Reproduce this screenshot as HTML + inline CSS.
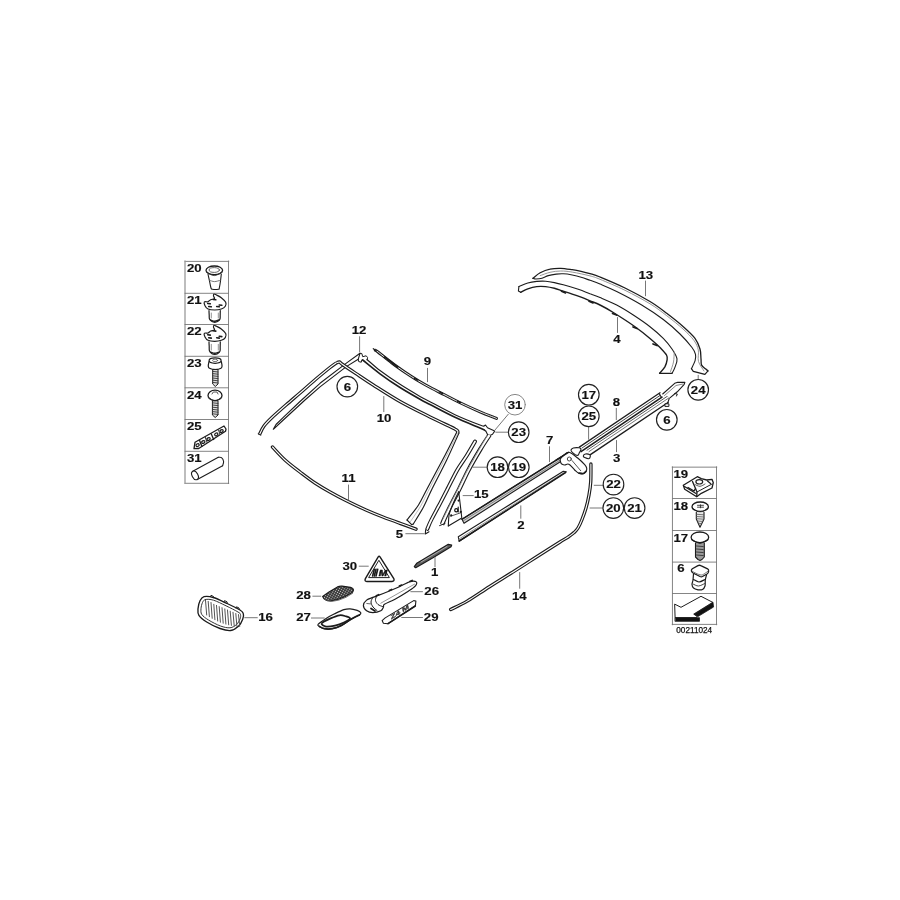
<!DOCTYPE html>
<html><head><meta charset="utf-8"><title>Diagram 00211024</title>
<style>
html,body{margin:0;padding:0;background:#fff;}
body{width:900px;height:900px;overflow:hidden;}
svg{display:block;will-change:transform;}
svg text{font-family:"Liberation Sans",sans-serif;font-weight:bold;}
svg text.n{font-weight:normal;}
</style></head><body>
<svg width="900" height="900" viewBox="0 0 900 900" stroke-linecap="round" stroke-linejoin="round">
<rect width="900" height="900" fill="#fff"/>
<g id="drawing">
<path d="M272.5 447 C274.6 449.2 280.4 455.8 285 460 C289.6 464.2 295 468.2 300 472 C305 475.8 310 479.7 315 483 C320 486.3 325 489.2 330 492 C335 494.8 339 497 345 500 C351 503 359.7 507.2 366 510 C372.3 512.8 377.3 514.8 383 517 C388.7 519.2 394.5 521.3 400 523.3 C405.5 525.3 413.3 528.2 416 529.2" fill="none" stroke="#1c1c1c" stroke-width="3.4" stroke-linecap="round"/>
<path d="M272.5 447 C274.6 449.2 280.4 455.8 285 460 C289.6 464.2 295 468.2 300 472 C305 475.8 310 479.7 315 483 C320 486.3 325 489.2 330 492 C335 494.8 339 497 345 500 C351 503 359.7 507.2 366 510 C372.3 512.8 377.3 514.8 383 517 C388.7 519.2 394.5 521.3 400 523.3 C405.5 525.3 413.3 528.2 416 529.2" fill="none" stroke="#fff" stroke-width="1.1" stroke-linecap="round"/>
<path d="M273.3 429.3 L283.3 420 L305 400 L320 386.9 L346.7 366.4 L358.2 359.3 L360 353.3 L346.7 362.9 L320 383.3 L300 401.5 L283.3 417.3 L276 424.5 Z" fill="#fff" stroke="#1c1c1c" stroke-width="1.1" />
<path d="M259.5 434.5 C260.2 433.1 261.9 428.8 264 426 C266.1 423.2 268.3 421 272 417.5 C275.7 414 281.3 409.1 286 405 C290.7 400.9 295 397.3 300 393 C305 388.7 311 383.2 316 379 C321 374.8 326.6 370.2 330 367.5 C333.4 364.8 335.4 363.6 336.5 362.8" fill="none" stroke="#1c1c1c" stroke-width="3.4" stroke-linecap="butt"/>
<path d="M259.5 434.5 C260.2 433.1 261.9 428.8 264 426 C266.1 423.2 268.3 421 272 417.5 C275.7 414 281.3 409.1 286 405 C290.7 400.9 295 397.3 300 393 C305 388.7 311 383.2 316 379 C321 374.8 326.6 370.2 330 367.5 C333.4 364.8 335.4 363.6 336.5 362.8" fill="none" stroke="#fff" stroke-width="1.1" stroke-linecap="butt"/>
<path d="M258.2 434 L260.8 435.2" fill="none" stroke="#1c1c1c" stroke-width="1" />
<path d="M456.3 433 C454 437.5 447.4 450.7 442.5 460 C437.6 469.3 431 481.5 427 489 C423 496.5 421.8 499.8 418.5 505 C415.2 510.2 408.9 517.5 407 520 L411.7 524.7 L413.3 524 C415 521.2 420.4 512.8 423.5 507 C426.6 501.2 428.1 496.8 432 489 C435.9 481.2 442.2 469.3 446.7 460 C451.2 450.7 456.9 437.5 459 433 Z" fill="#fff" stroke="none" stroke-width="1" />
<path d="M456.3 433 C454 437.5 447.4 450.7 442.5 460 C437.6 469.3 431 481.5 427 489 C423 496.5 421.8 499.8 418.5 505 C415.2 510.2 408.9 517.5 407 520" fill="none" stroke="#1c1c1c" stroke-width="1.15" />
<path d="M459 433 C456.9 437.5 451.2 450.7 446.7 460 C442.2 469.3 435.9 481.2 432 489 C428.1 496.8 426.6 501.2 423.5 507 C420.4 512.8 415 521.2 413.3 524" fill="none" stroke="#1c1c1c" stroke-width="1.15" />
<path d="M407 520 L411.7 524.7 L413.3 524" fill="none" stroke="#1c1c1c" stroke-width="1.1" />
<path d="M457.5 434 C455.3 438.3 449 450.8 444.3 460 C439.6 469.2 433.1 481.3 429.2 489 C425.3 496.7 423.8 500.6 420.7 506 C417.6 511.4 412.2 518.9 410.5 521.5" fill="none" stroke="#aaa" stroke-width="0.8" />
<path d="M336.5 362.8 C337 362.7 338.5 361.7 339.5 362 C340.5 362.3 339.9 362.6 342.6 364.5 C345.3 366.4 350.5 369.9 355.6 373.3 C360.7 376.7 365.9 380.3 373.3 385 C380.7 389.7 390.6 396.2 400 401.5 C409.4 406.8 421.7 412.8 430 417 C438.3 421.2 445.8 424.5 450 426.5 C454.2 428.5 454 428.4 455.3 429.2 C456.6 429.9 457.3 430.3 457.7 431 C458.1 431.7 457.6 432.8 457.6 433.2" fill="none" stroke="#1c1c1c" stroke-width="3.4" stroke-linecap="butt"/>
<path d="M336.5 362.8 C337 362.7 338.5 361.7 339.5 362 C340.5 362.3 339.9 362.6 342.6 364.5 C345.3 366.4 350.5 369.9 355.6 373.3 C360.7 376.7 365.9 380.3 373.3 385 C380.7 389.7 390.6 396.2 400 401.5 C409.4 406.8 421.7 412.8 430 417 C438.3 421.2 445.8 424.5 450 426.5 C454.2 428.5 454 428.4 455.3 429.2 C456.6 429.9 457.3 430.3 457.7 431 C458.1 431.7 457.6 432.8 457.6 433.2" fill="none" stroke="#fff" stroke-width="1.1" stroke-linecap="butt"/>
<path d="M360 353.3 L361.8 353.5 L362.7 356.7 L366.2 355.8 L367.6 357.6 L367.1 359.8" fill="none" stroke="#1c1c1c" stroke-width="1.0" />
<path d="M358.2 359.3 L358.7 361.6 L361.3 362.2 L361.8 359.8 L362.7 359.8" fill="none" stroke="#1c1c1c" stroke-width="1.0" />
<path d="M367 359.5 C369.2 361.3 374.5 366.4 380 370.5 C385.5 374.6 393.3 380 400 384.3 C406.7 388.6 415 393.5 420 396.4 C425 399.3 424.2 398.6 430 401.7 C435.8 404.8 446.7 410.8 455 414.7 C463.3 418.6 475 423.1 480 425 C485 426.9 484.2 426 485 426.2" fill="none" stroke="#1c1c1c" stroke-width="1.1" />
<path d="M362.7 360 C365.6 362.3 373.8 369.2 380 373.8 C386.2 378.4 393.3 383.3 400 387.5 C406.7 391.7 415 396.4 420 399.2 C425 402 424.2 401.5 430 404.5 C435.8 407.5 446.7 413.4 455 417.3 C463.3 421.2 474.9 425.8 480 428 C485.1 430.2 484.8 430.2 485.7 430.7" fill="none" stroke="#1c1c1c" stroke-width="1.6" />
<path d="M484 426 L485.5 425 L487.5 427.8 L494.7 431.1 L492.5 434.3 L490 435.6 L487.5 434.5 L485.7 430.7" fill="#fff" stroke="#1c1c1c" stroke-width="1.1" />
<path d="M489.5 435 C488 437.3 484 443.2 480.5 449 C477 454.8 472 463.3 468.5 470 C465 476.7 462.3 483 459.3 489 C456.3 495 453 501 450.5 506 C448 511 445.7 515.9 444.3 519 C442.9 522.1 442.4 523.6 442 524.5" fill="none" stroke="#1c1c1c" stroke-width="4.5" stroke-linecap="butt"/>
<path d="M489.5 435 C488 437.3 484 443.2 480.5 449 C477 454.8 472 463.3 468.5 470 C465 476.7 462.3 483 459.3 489 C456.3 495 453 501 450.5 506 C448 511 445.7 515.9 444.3 519 C442.9 522.1 442.4 523.6 442 524.5" fill="none" stroke="#fff" stroke-width="2.3" stroke-linecap="butt"/>
<path d="M487 436 C485.6 438.5 481.6 445.2 478.3 451 C475 456.8 470.4 464.7 467 471 C463.6 477.3 460.9 483.2 458 489 C455.1 494.8 451.8 501 449.3 506 C446.8 511 444.1 516.8 443 519" fill="none" stroke="#8a8a8a" stroke-width="0.9" />
<path d="M439.6 525.6 L445 523.5" fill="none" stroke="#1c1c1c" stroke-width="1" />
<path d="M475 441.5 C473.6 443.9 469.5 451.2 466.5 456 C463.5 460.8 460.2 464.8 457 470.5 C453.8 476.2 450.1 484.1 447 490 C443.9 495.9 441.4 500.9 438.7 506 C436 511.1 432.9 516.7 431 520.5 C429.1 524.3 427.9 527.6 427.3 529" fill="none" stroke="#1c1c1c" stroke-width="3.9" stroke-linecap="round"/>
<path d="M475 441.5 C473.6 443.9 469.5 451.2 466.5 456 C463.5 460.8 460.2 464.8 457 470.5 C453.8 476.2 450.1 484.1 447 490 C443.9 495.9 441.4 500.9 438.7 506 C436 511.1 432.9 516.7 431 520.5 C429.1 524.3 427.9 527.6 427.3 529" fill="none" stroke="#fff" stroke-width="1.7" stroke-linecap="round"/>
<path d="M425.6 530 L425.3 534 L429 531.8" fill="#fff" stroke="#1c1c1c" stroke-width="1.1" />
<path d="M375.3 350.3 C375.8 350.6 375.6 350.1 378.3 352.2 C381 354.3 387.2 359.4 391.7 362.8 C396.1 366.2 400.6 369.3 405 372.3 C409.4 375.3 413.9 378.1 418.3 380.8 C422.8 383.5 427.2 385.9 431.7 388.3 C436.1 390.7 440.4 392.6 445 395 C449.6 397.4 453.8 399.7 459.6 402.5 C465.4 405.3 473.9 409.2 480 411.8 C486.1 414.4 493.8 417.3 496.5 418.4" fill="none" stroke="#1c1c1c" stroke-width="3.0" stroke-linecap="round"/>
<path d="M375.3 350.3 C375.8 350.6 375.6 350.1 378.3 352.2 C381 354.3 387.2 359.4 391.7 362.8 C396.1 366.2 400.6 369.3 405 372.3 C409.4 375.3 413.9 378.1 418.3 380.8 C422.8 383.5 427.2 385.9 431.7 388.3 C436.1 390.7 440.4 392.6 445 395 C449.6 397.4 453.8 399.7 459.6 402.5 C465.4 405.3 473.9 409.2 480 411.8 C486.1 414.4 493.8 417.3 496.5 418.4" fill="none" stroke="#fff" stroke-width="0.9" stroke-linecap="round"/>
<path d="M373.3 348.7 L376.5 351" fill="none" stroke="#1c1c1c" stroke-width="1.2" />
<path d="M384.5 357 L397.5 367" fill="none" stroke="#1c1c1c" stroke-width="1.7" />
<path d="M414.5 378.4 L417.5 380" fill="none" stroke="#1c1c1c" stroke-width="1.6" />
<path d="M439.5 391.9 L442.5 393.5" fill="none" stroke="#1c1c1c" stroke-width="1.6" />
<path d="M457.5 401.1 L460.5 402.7" fill="none" stroke="#1c1c1c" stroke-width="1.6" />
<path d="M458.7 491.8 C457.9 493.5 455.4 498.3 453.8 502 C452.2 505.7 450.2 510 449.3 514 C448.4 518 448.5 524 448.3 526" fill="none" stroke="#1c1c1c" stroke-width="1.1" />
<path d="M458.7 491.8 L460.3 505 L461.8 518 L448.3 526" fill="none" stroke="#1c1c1c" stroke-width="1.1" />
<path d="M450.7 516.2 L460.9 512.7" fill="none" stroke="#444" stroke-width="0.9" />
<circle cx="458.6" cy="500.6" r="1.1" fill="#1a1a1a"/>
<circle cx="460.8" cy="511.8" r="1.1" fill="#1a1a1a"/>
<circle cx="451.2" cy="515.4" r="1.1" fill="#1a1a1a"/>
<circle cx="456.3" cy="510.3" r="1.6" fill="none" stroke="#111" stroke-width="1.2"/>
<path d="M458.2 507 L458.2 512" fill="none" stroke="#1c1c1c" stroke-width="1.2" />
<path d="M462 519.3 L568 452.7 L560.7 461.5 L464 523.3 Z" fill="#d0d0d0" stroke="#1c1c1c" stroke-width="1.1" />
<path d="M462 519.3 L568 452.7" fill="none" stroke="#1c1c1c" stroke-width="1.35" />
<path d="M463 521 L520 485.4 L563 458.3" fill="none" stroke="#777" stroke-width="0.9" />
<path d="M458.3 536.8 L563.3 471.2 L566.3 471.8 L459.2 541.2 Z" fill="#fff" stroke="#1c1c1c" stroke-width="1.1" />
<path d="M459 539 L564.5 472.3" fill="none" stroke="#888" stroke-width="0.9" />
<path d="M459.2 541 L565.5 472.6" fill="none" stroke="#1c1c1c" stroke-width="1.5" />
<path d="M414.3 566.7 L416.7 563.3 L421 560.7 L448.3 544.3 L451.7 545 L451 546.7 L433 557.7 L415.7 567.7 Z" fill="#606060" stroke="#1c1c1c" stroke-width="1.2" />
<path d="M421 562 L447 546.5" fill="none" stroke="#ccc" stroke-width="0.7" />
<path d="M450.7 609.5 C453.4 608.1 460.8 604.9 467.2 601.1 C473.6 597.3 482 591.4 489.4 586.7 C496.8 582 505.2 576.9 511.7 572.8 C518.2 568.7 522.8 565.8 528.3 562.2 C533.8 558.7 539.7 554.9 545 551.5 C550.3 548.1 556.1 544.5 560 542 C563.9 539.5 566.2 538.4 568.5 536.8 C570.8 535.2 572.4 534.1 574 532.6 C575.6 531.1 576.7 530.2 578 528 C579.3 525.8 580.7 522.8 582 519.5 C583.3 516.2 584.8 512.1 586 508 C587.2 503.9 588.2 499.3 589 495 C589.8 490.7 590.4 487.2 590.7 482 C591 476.8 590.9 467 590.9 464" fill="none" stroke="#1c1c1c" stroke-width="3.4" stroke-linecap="round"/>
<path d="M450.7 609.5 C453.4 608.1 460.8 604.9 467.2 601.1 C473.6 597.3 482 591.4 489.4 586.7 C496.8 582 505.2 576.9 511.7 572.8 C518.2 568.7 522.8 565.8 528.3 562.2 C533.8 558.7 539.7 554.9 545 551.5 C550.3 548.1 556.1 544.5 560 542 C563.9 539.5 566.2 538.4 568.5 536.8 C570.8 535.2 572.4 534.1 574 532.6 C575.6 531.1 576.7 530.2 578 528 C579.3 525.8 580.7 522.8 582 519.5 C583.3 516.2 584.8 512.1 586 508 C587.2 503.9 588.2 499.3 589 495 C589.8 490.7 590.4 487.2 590.7 482 C591 476.8 590.9 467 590.9 464" fill="none" stroke="#fff" stroke-width="1.1" stroke-linecap="round"/>
<path d="M580 446.6 L660 392.8 L661 397.9 L670 394.1 L668 402.5 L589 455.6 L586 448.6 Z" fill="#fff" stroke="none" stroke-width="1" />
<path d="M579.3 447.1 L660 392.8" fill="none" stroke="#1c1c1c" stroke-width="1.3" />
<path d="M582 448 L660 395.5" fill="none" stroke="#444" stroke-width="1.0" />
<path d="M581 451.6 L662 397.2" fill="none" stroke="#1c1c1c" stroke-width="1.6" />
<path d="M587 450.2 L668 395.8" fill="none" stroke="#555" stroke-width="1.0" />
<path d="M589 451.6 L669 397.8" fill="none" stroke="#666" stroke-width="0.9" />
<path d="M590 454.9 L668 402.5" fill="none" stroke="#1c1c1c" stroke-width="1.4" />
<path d="M571 450 C571.2 449.3 571.9 448.4 573.3 448 C574.7 447.6 578 447.6 579.3 447.8 C580.6 448.1 581 448.7 581 449.5 C581 450.3 579.8 451.7 579.3 452.7 C578.8 453.7 578.7 455 578 455.3 C577.3 455.6 576.3 455.2 575.3 454.7 C574.3 454.1 572.7 452.8 572 452 C571.3 451.2 570.8 450.7 571 450 Z" fill="#fff" stroke="#1c1c1c" stroke-width="1.1" />
<path d="M583.3 456 C583.4 455.4 584.5 454.2 585.5 454 C586.5 453.8 588.7 454.1 589.5 454.5 C590.3 454.9 590.4 456 590.3 456.7 C590.2 457.4 589.6 458.6 588.7 458.7 C587.8 458.8 585.6 457.9 584.7 457.5 C583.8 457.1 583.2 456.6 583.3 456 Z" fill="#fff" stroke="#1c1c1c" stroke-width="1.1" />
<path d="M662.7 394 L674.7 383.3 L677.8 382.2 L684.9 382.4 L684 384.7 L677.3 391.8 L670.2 397.6" fill="#fff" stroke="#1c1c1c" stroke-width="1.1" />
<path d="M664.5 395.5 L676 385.5 L683 384" fill="none" stroke="#777" stroke-width="0.9" />
<path d="M659.3 393.8 L661.5 397.5" fill="none" stroke="#1c1c1c" stroke-width="1.1" />
<path d="M669.3 398.4 L667.6 403.3" fill="none" stroke="#1c1c1c" stroke-width="1.1" />
<path d="M665.3 403.8 L668.9 403.8 L668.9 406.4 L665.3 406.4 Z" fill="#fff" stroke="#1c1c1c" stroke-width="1.0" />
<path d="M674.7 393.5 L677.3 394 L676.5 396" fill="none" stroke="#1c1c1c" stroke-width="1.0" />
<path d="M569 452.3 C571.4 452.8 575.4 456.2 578 458.3 C580.6 460.4 583.2 463.1 584.7 464.7 C586.2 466.3 586.5 467.1 586.7 468.2 C586.9 469.3 586.6 470.6 586 471.5 C585.4 472.4 584.5 473.4 583.3 473.7 C582.1 474 580.1 473.9 578.7 473.3 C577.3 472.7 576.2 471.4 574.7 470 C573.2 468.6 571.2 466 570 465 C568.8 464 568.6 464 567.7 464 C566.8 464 565.7 465 564.7 465 C563.7 465 562.4 464.4 561.7 464 C561 463.6 560.9 463.1 560.7 462.3 C560.5 461.5 559.8 460.1 560.3 459 C560.8 457.9 562 456.6 563.5 455.5 C565 454.4 566.6 451.8 569 452.3 Z" fill="#fff" stroke="#1c1c1c" stroke-width="1.15" />
<path d="M556 460.2 L568.5 452.4" fill="none" stroke="#1c1c1c" stroke-width="1.4" />
<circle cx="569.3" cy="459" r="2" fill="#fff" stroke="#333" stroke-width="0.9"/>
<path d="M572 460.5 L580.7 470.7" fill="none" stroke="#555" stroke-width="1.0" />
<path d="M579 473 C579.7 473.1 582.1 473.8 583.3 473.5 C584.5 473.2 585.5 471.7 586 471.3" fill="none" stroke="#1c1c1c" stroke-width="1.6" />
<path d="M532.9 278.3 C534.1 277.4 537.4 274.3 540.2 272.8 C543.1 271.3 546.6 269.9 550 269.2 C553.4 268.4 557 268.2 560.7 268.3 C564.4 268.4 568.8 269.2 572.2 269.7 C575.6 270.2 578.1 270.7 581.1 271.4 C584.1 272.1 586.9 272.8 590 273.7 C593.1 274.6 594.2 274.6 600 277 C605.8 279.4 616.7 283.9 625 288 C633.3 292.1 643 297.3 650 301.5 C657 305.7 661.2 309.1 666.7 313.3 C672.2 317.5 678.6 322.5 683.3 326.7 C688 330.9 692.2 334.6 695 338.3 C697.8 342 699 345.6 700 349 C701 352.4 700.7 356.2 701 358.9 C701.3 361.6 700.8 363.4 701.6 365.1 C702.4 366.8 704.7 368.1 705.8 369.1 C706.9 370.1 707.6 370.6 708 370.9" fill="none" stroke="#1c1c1c" stroke-width="1.3" />
<path d="M532.9 278.3 C533.4 278.4 534.3 279 535.8 279 C537.3 279 539.9 278.9 542 278.3 C544.1 277.7 545.8 276.3 548.2 275.6 C550.6 274.9 553.7 274.4 556.2 274.1 C558.7 273.8 560.6 273.7 563.3 273.8 C566 273.9 569.2 274.4 572.2 275 C575.2 275.6 578.1 276.3 581.1 277.2 C584.1 278.1 586.9 279.2 590 280.3 C593.1 281.4 595.5 282.1 600 284 C604.5 285.9 609.8 288 616.7 291.5 C623.7 295 633.9 300.3 641.7 305 C649.5 309.7 656.9 314.7 663.3 319.5 C669.7 324.3 675.2 329.3 680 334 C684.8 338.7 689.4 344.1 692 347.5 C694.6 350.9 695 352.2 695.5 354.4 C696 356.6 695.8 358.3 695.1 360.7 C694.4 363.1 692 367.4 691.4 368.7" fill="none" stroke="#1c1c1c" stroke-width="1.1" />
<path d="M691.4 368.7 L693.3 371.3 L704.9 374.4 L708 370.9" fill="none" stroke="#1c1c1c" stroke-width="1.2" />
<path d="M540.2 275.6 C541.8 275.1 546.6 273.1 550 272.3 C553.4 271.5 557 271 560.7 271 C564.4 271 567.3 271.3 572.2 272.1 C577.1 272.9 585.4 274.7 590 275.9 C594.6 277.1 594.2 276.9 600 279.3 C605.8 281.7 616.7 286.2 625 290.3 C633.3 294.4 643 299.6 650 303.8 C657 308 661.2 311.5 666.7 315.7 C672.2 319.9 678.5 324.9 683 329 C687.5 333.1 691.5 337 694 340.5 C696.5 344 697.5 346.5 698.3 350 C699 353.5 697.5 358 698.5 361.5 C699.5 365 703.1 369.4 704 371" fill="none" stroke="#888" stroke-width="0.9" />
<path d="M518.9 286.6 C520.4 286 524.8 283.9 527.8 283 C530.8 282.1 533.7 281.7 536.7 281.4 C539.7 281.1 542.7 281 545.6 281.2 C548.5 281.4 551.5 282 554.4 282.6 C557.3 283.2 559.6 283.8 563.3 284.8 C567 285.8 572.2 287.3 576.7 288.8 C581.2 290.3 586.1 292.2 590 293.7 C593.9 295.1 595.5 295.6 600 297.5 C604.5 299.4 611.2 302.1 616.7 305 C622.2 307.9 627.8 311.4 633.3 315 C638.8 318.6 645 322.8 650 326.7 C655 330.6 659.6 334.6 663.3 338.3 C667 342 669.7 345.6 672 349 C674.3 352.4 676.5 355.8 677 358.9 C677.5 362 675.5 365.4 674.7 367.8 C673.9 370.2 672.5 372.4 672 373.3" fill="none" stroke="#1c1c1c" stroke-width="1.1" />
<path d="M520.7 292.3 C521.9 291.7 525.1 289.8 527.8 288.8 C530.5 287.9 533.7 287 536.7 286.6 C539.7 286.2 542.7 286.3 545.6 286.6 C548.5 286.9 551.7 287.6 554.4 288.3 C557.1 289 558.6 289.6 561.6 290.6 C564.6 291.6 569 293 572.2 294.1 C575.5 295.2 578.1 296.1 581.1 297.2 C584.1 298.3 586.9 299.5 590 300.8 C593.1 302.1 596.1 303.1 600 305 C603.9 306.9 607.5 308.9 613.3 312.5 C619.1 316.1 628.9 322.4 635 326.7 C641.1 331 645.8 334.9 650 338.5 C654.2 342.1 657.8 345.2 660.5 348 C663.2 350.8 665.4 353 666.5 355 C667.6 357 667.4 357.8 667.1 359.8 C666.8 361.8 666.1 364.6 664.9 366.9 C663.6 369.1 660.5 372.2 659.6 373.3" fill="none" stroke="#1c1c1c" stroke-width="1.4" />
<path d="M518.9 286.6 L518.4 291 L520.7 292.3" fill="none" stroke="#1c1c1c" stroke-width="1.1" />
<path d="M659.6 373.4 L672 373.4" fill="none" stroke="#1c1c1c" stroke-width="1.1" />
<path d="M670.5 371.5 C671 369.9 672.9 365.2 673.5 362 C674.1 358.8 674.1 353.7 674.2 352" fill="none" stroke="#888" stroke-width="0.9" />
<path d="M561.5 291.2 L565.5 292.9" fill="none" stroke="#1c1c1c" stroke-width="1.6" />
<path d="M589 301.2 L593 302.9" fill="none" stroke="#1c1c1c" stroke-width="1.6" />
<path d="M612.5 313.4 L616.5 315.1" fill="none" stroke="#1c1c1c" stroke-width="1.6" />
<path d="M633 326.9 L637 328.6" fill="none" stroke="#1c1c1c" stroke-width="1.6" />
<path d="M653 343.9 L657 345.6" fill="none" stroke="#1c1c1c" stroke-width="1.6" />
<path d="M204 596.7 C206.2 596.2 209.5 596.4 213.3 597.5 C217.1 598.6 222.2 601.2 226.7 603.3 C231.1 605.4 237.2 608.3 240 610 C242.8 611.7 242.9 612 243.3 613.5 C243.8 615 243.5 617.2 242.7 619.3 C241.9 621.4 240.7 624.1 238.7 626 C236.7 627.9 233.8 630.1 230.7 630.5 C227.6 630.9 224 629.9 220 628.5 C216 627.1 210.2 624.2 206.7 622 C203.2 619.8 200.3 617.5 198.9 615.3 C197.5 613.1 197.8 611.1 198 608.7 C198.2 606.3 199 602.7 200 600.7 C201 598.7 201.8 597.2 204 596.7 Z" fill="#fff" stroke="#1a1a1a" stroke-width="1.35" />
<path d="M205.5 599.5 C207.3 599.1 210.1 599.2 213.5 600.2 C216.9 601.2 221.9 603.8 226 605.8 C230.1 607.8 235.6 610.5 238 612 C240.4 613.5 240.2 613.3 240.5 614.5 C240.8 615.7 240.7 617.3 240 619 C239.3 620.7 238.2 623 236.5 624.5 C234.8 626 232.7 627.5 230 627.8 C227.3 628 224.1 627.3 220.5 626 C216.9 624.7 211.6 621.9 208.5 620 C205.4 618.1 203.1 616.4 201.8 614.5 C200.6 612.6 200.9 610.7 201 608.7 C201.1 606.7 201.8 604 202.5 602.5 C203.2 601 203.7 599.9 205.5 599.5 Z" fill="none" stroke="#333" stroke-width="1.0" />
<path d="M205.5 600.2 L206.7 615" fill="none" stroke="#4a4a4a" stroke-width="0.95" />
<path d="M208.2 601.4 L209.4 616.7" fill="none" stroke="#4a4a4a" stroke-width="0.95" />
<path d="M211 602.5 L212.2 618.3" fill="none" stroke="#4a4a4a" stroke-width="0.95" />
<path d="M213.8 604.3 L214.9 619.7" fill="none" stroke="#4a4a4a" stroke-width="0.95" />
<path d="M216.5 605.4 L217.7 621" fill="none" stroke="#4a4a4a" stroke-width="0.95" />
<path d="M219.2 606.6 L220.4 622.2" fill="none" stroke="#4a4a4a" stroke-width="0.95" />
<path d="M222 607.7 L223.2 623.2" fill="none" stroke="#4a4a4a" stroke-width="0.95" />
<path d="M224.8 608.9 L225.9 624.1" fill="none" stroke="#4a4a4a" stroke-width="0.95" />
<path d="M227.5 610 L228.7 624.8" fill="none" stroke="#4a4a4a" stroke-width="0.95" />
<path d="M230.2 611.2 L231.4 625.4" fill="none" stroke="#4a4a4a" stroke-width="0.95" />
<path d="M233 612.3 L234.2 625.9" fill="none" stroke="#4a4a4a" stroke-width="0.95" />
<path d="M235.8 613.5 L236.9 626.2" fill="none" stroke="#4a4a4a" stroke-width="0.95" />
<path d="M238.5 614.6 L239.7 626.4" fill="none" stroke="#4a4a4a" stroke-width="0.95" />
<path d="M210.5 596.5 L211 595.3 L213.5 596.5 L213.8 597.8" fill="none" stroke="#1c1c1c" stroke-width="1.0" />
<path d="M224 601.8 L224.5 600.6 L227 601.8 L227.3 603.1" fill="none" stroke="#1c1c1c" stroke-width="1.0" />
<path d="M236 608 L236.5 606.8 L239 608 L239.3 609.3" fill="none" stroke="#1c1c1c" stroke-width="1.0" />
<path d="M380 556.8 L393.8 578.6 Q394.8 581.4 392 581.5 L366.8 581.5 Q364.2 581.4 365.4 578.6 L378.2 556.8 Q379.1 555.6 380 556.8 Z" fill="#fff" stroke="#1a1a1a" stroke-width="1.4"/>
<path d="M379.1 560.6 L389.4 577.6 L369 577.6 Z" fill="none" stroke="#222" stroke-width="1.0" />
<path d="M372.6 576 L374.3 569.3" fill="none" stroke="#1c1c1c" stroke-width="1.6" />
<path d="M374.3 576 L376 569.3" fill="none" stroke="#1c1c1c" stroke-width="1.6" />
<path d="M376 576 L377.7 569.3" fill="none" stroke="#1c1c1c" stroke-width="1.6" />
<text transform="translate(383,576.3) scale(1.2,1)" text-anchor="middle" font-size="8.4" font-style="italic" fill="#111" stroke="#111" stroke-width="0.5">M</text>
<defs><pattern id="mesh" width="2.2" height="2.2" patternUnits="userSpaceOnUse" patternTransform="rotate(30)"><rect width="2.2" height="2.2" fill="#2e2e2e"/><rect x="0.5" y="0.5" width="1.1" height="1.1" fill="#d8d8d8"/></pattern></defs>
<path d="M322.6 596.4 L329 592 L337.5 586.9 Q339.6 586 342 586.2 L350.5 587.3 Q353.6 588.3 353.4 590.4 Q353 592.3 351 593.3 L344.8 596.8 Q338 600.3 330.5 600.8 L326.5 600.5 Q323.5 599.5 322.6 596.4 Z" fill="url(#mesh)" stroke="#1a1a1a" stroke-width="1.2"/>
<path d="M324 598.6 Q327 601.6 332 601.4 Q339 600.8 346 597.3 L352.6 593.3" fill="none" stroke="#555" stroke-width="0.8"/>
<path d="M318.3 624.2 C319.4 622.9 323.3 620.2 326.1 618.4 C328.9 616.6 332 615.1 335 613.6 C338 612.1 341.4 610.4 343.9 609.6 C346.4 608.8 347.9 608.7 350.1 608.8 C352.3 608.9 355.4 609.8 357.2 610.4 C359 611 360.4 612 360.8 612.7 C361.2 613.5 361 613.8 359.4 614.9 C357.8 616 354 617.5 351 619.3 C348 621.1 344.3 624 341.2 625.6 C338.1 627.2 335.1 628.2 332.3 628.7 C329.5 629.2 326.5 629.1 324.3 628.7 C322.1 628.3 320.4 627.1 319.4 626.4 C318.4 625.6 317.2 625.5 318.3 624.2 Z" fill="#fff" stroke="#1c1c1c" stroke-width="1.2" />
<path d="M319.4 626.4 C320.2 626.8 322.1 628.3 324.3 628.7 C326.5 629.1 329.5 629.2 332.3 628.7 C335.1 628.2 338.1 627.2 341.2 625.6 C344.3 624 348 621.1 351 619.3 C354 617.5 358 615.6 359.4 614.9" fill="none" stroke="#1c1c1c" stroke-width="1.7" />
<path d="M321.7 623.3 C322.4 621.9 327.7 619.7 330.6 618.4 C333.6 617.1 336.9 615.7 339.4 615.3 C341.9 614.9 343.9 615.7 345.7 616.2 C347.5 616.7 350.4 617.4 350.1 618.4 C349.8 619.4 346.4 621.2 343.9 622.4 C341.4 623.6 338 624.9 335 625.6 C332 626.3 328.3 627 326.1 626.6 C323.9 626.2 320.9 624.7 321.7 623.3 Z" fill="#fff" stroke="#1c1c1c" stroke-width="1.7" />
<path d="M416.3 581.9 C415.4 581.2 412.9 580.8 410.1 581.6 C407.3 582.4 402.9 585.2 399.4 586.8 C395.8 588.4 392.6 589.7 388.8 591.2 C385 592.8 379 595.1 376.3 596.1 C373.6 597.1 374.4 596.7 372.8 597.4 C371.2 598.1 368.2 598.8 366.6 600.1 C365 601.4 363.4 603.6 363.4 605.4 C363.4 607.2 365 609.6 366.6 610.8 C368.2 612 370.4 612.6 372.8 612.6 C375.2 612.6 379 611.7 380.8 610.8 C382.6 609.9 382.8 608.3 383.4 607.2 C384 606.1 382.6 605.6 384.5 604.3 C386.4 603 391 601.4 395 599.2 C399 597 404.9 593.4 408.3 591.2 C411.7 589 414.1 587.5 415.4 585.9 C416.7 584.3 417.2 582.6 416.3 581.9 Z" fill="#fff" stroke="#1c1c1c" stroke-width="1.2" />
<path d="M380.8 603.2 L414.6 584.1" fill="none" stroke="#888" stroke-width="0.9" />
<path d="M376.3 595.7 L378.7 594.7" fill="none" stroke="#1c1c1c" stroke-width="1.6" />
<path d="M389.3 590.4 L391.7 589.4" fill="none" stroke="#1c1c1c" stroke-width="1.6" />
<path d="M399.3 586 L401.7 585" fill="none" stroke="#1c1c1c" stroke-width="1.6" />
<path d="M409.8 581.4 L412.2 580.4" fill="none" stroke="#1c1c1c" stroke-width="1.6" />
<path d="M372.8 597.4 C372.5 598.2 371 600.4 371 602 C371 603.6 372 605.6 373 607 C374 608.4 376.3 609.9 377 610.5" fill="none" stroke="#1c1c1c" stroke-width="1.0" />
<path d="M376.5 596.3 C376.3 597 375.2 599.1 375.5 600.5 C375.8 601.9 376.8 603.5 378 604.5 C379.2 605.5 381.8 606.2 382.5 606.5" fill="none" stroke="#1c1c1c" stroke-width="1.0" />
<path d="M371 608.5 L375 611" fill="none" stroke="#1c1c1c" stroke-width="1.8" />
<path d="M366.8 603.5 L371.5 604" fill="none" stroke="#555" stroke-width="0.9" />
<path d="M382.1 620.6 L385.2 617.9 L413.7 600.6 L415.9 601 L415.4 605.8 L387.9 623.8 L383.4 623.2 Z" fill="#fff" stroke="#1c1c1c" stroke-width="1.1" />
<path d="M388 623.6 L415.3 606" fill="none" stroke="#1c1c1c" stroke-width="1.6" />
<text transform="translate(400.6,613.6) rotate(-32) scale(1.8,1)" text-anchor="middle" font-size="5.2" font-style="italic" fill="#333" stroke="#333" stroke-width="0.25">Z4 M</text>
</g>
<g id="labels">
<line x1="359.6" y1="336.7" x2="359.6" y2="351.8" stroke="#777" stroke-width="1"/>
<line x1="427.5" y1="368.3" x2="427.5" y2="381.7" stroke="#777" stroke-width="1"/>
<line x1="383.8" y1="396.5" x2="383.8" y2="411.7" stroke="#777" stroke-width="1"/>
<line x1="348.5" y1="485" x2="348.5" y2="500" stroke="#777" stroke-width="1"/>
<line x1="405.8" y1="533.7" x2="424.2" y2="533.7" stroke="#777" stroke-width="1"/>
<line x1="463.1" y1="495.6" x2="473.3" y2="495.6" stroke="#777" stroke-width="1"/>
<line x1="549.5" y1="446.7" x2="549.5" y2="461.7" stroke="#777" stroke-width="1"/>
<line x1="520.8" y1="505.8" x2="520.8" y2="518.3" stroke="#777" stroke-width="1"/>
<line x1="435" y1="557.5" x2="435" y2="566.7" stroke="#777" stroke-width="1"/>
<line x1="359.2" y1="566.2" x2="368.3" y2="566.2" stroke="#777" stroke-width="1"/>
<line x1="312.8" y1="596.2" x2="320.8" y2="596.2" stroke="#777" stroke-width="1"/>
<line x1="311.4" y1="618" x2="324.3" y2="618" stroke="#777" stroke-width="1"/>
<line x1="410.8" y1="591.7" x2="422.5" y2="591.7" stroke="#777" stroke-width="1"/>
<line x1="401.7" y1="617.5" x2="422.5" y2="617.5" stroke="#777" stroke-width="1"/>
<line x1="244.7" y1="617.7" x2="257.3" y2="617.7" stroke="#777" stroke-width="1"/>
<line x1="519.7" y1="572.5" x2="519.7" y2="588.3" stroke="#777" stroke-width="1"/>
<line x1="645.5" y1="281" x2="645.5" y2="295.8" stroke="#777" stroke-width="1"/>
<line x1="617.5" y1="317.5" x2="617.5" y2="332.5" stroke="#777" stroke-width="1"/>
<line x1="616.3" y1="408.3" x2="616.3" y2="419.7" stroke="#777" stroke-width="1"/>
<line x1="616.5" y1="440.5" x2="616.5" y2="451.7" stroke="#777" stroke-width="1"/>
<line x1="588.6" y1="427" x2="588.6" y2="439.3" stroke="#777" stroke-width="1"/>
<line x1="698.2" y1="375.3" x2="698.2" y2="379.2" stroke="#777" stroke-width="1"/>
<line x1="473" y1="467.2" x2="487.5" y2="467.2" stroke="#777" stroke-width="1"/>
<line x1="495.8" y1="432.2" x2="508.3" y2="432.2" stroke="#777" stroke-width="1"/>
<line x1="508.3" y1="414.2" x2="495" y2="430" stroke="#777" stroke-width="1"/>
<line x1="594.2" y1="485.3" x2="603.3" y2="485.3" stroke="#777" stroke-width="1"/>
<line x1="590" y1="508" x2="603" y2="508" stroke="#777" stroke-width="1"/>
<circle cx="347.3" cy="386.6" r="10.3" fill="#fff" stroke="#222" stroke-width="1.15"/>
<text transform="translate(347.3,390.5) scale(1.2,1)" text-anchor="middle" font-size="11" fill="#111" stroke="#111" stroke-width="0.15">6</text>
<circle cx="515" cy="404.7" r="10.3" fill="#fff" stroke="#888" stroke-width="1.0"/>
<text transform="translate(515,408.6) scale(1.2,1)" text-anchor="middle" font-size="11" fill="#111" stroke="#111" stroke-width="0.15">31</text>
<circle cx="518.7" cy="432.2" r="10.3" fill="#fff" stroke="#222" stroke-width="1.15"/>
<text transform="translate(518.7,436.1) scale(1.2,1)" text-anchor="middle" font-size="11" fill="#111" stroke="#111" stroke-width="0.15">23</text>
<circle cx="497.5" cy="467.2" r="10.3" fill="#fff" stroke="#222" stroke-width="1.15"/>
<text transform="translate(497.5,471.1) scale(1.2,1)" text-anchor="middle" font-size="11" fill="#111" stroke="#111" stroke-width="0.15">18</text>
<circle cx="518.8" cy="467.2" r="10.3" fill="#fff" stroke="#222" stroke-width="1.15"/>
<text transform="translate(518.8,471.1) scale(1.2,1)" text-anchor="middle" font-size="11" fill="#111" stroke="#111" stroke-width="0.15">19</text>
<circle cx="588.8" cy="394.7" r="10.3" fill="#fff" stroke="#222" stroke-width="1.15"/>
<text transform="translate(588.8,398.6) scale(1.2,1)" text-anchor="middle" font-size="11" fill="#111" stroke="#111" stroke-width="0.15">17</text>
<circle cx="588.8" cy="416.3" r="10.3" fill="#fff" stroke="#222" stroke-width="1.15"/>
<text transform="translate(588.8,420.2) scale(1.2,1)" text-anchor="middle" font-size="11" fill="#111" stroke="#111" stroke-width="0.15">25</text>
<circle cx="666.8" cy="419.8" r="10.3" fill="#fff" stroke="#222" stroke-width="1.15"/>
<text transform="translate(666.8,423.7) scale(1.2,1)" text-anchor="middle" font-size="11" fill="#111" stroke="#111" stroke-width="0.15">6</text>
<circle cx="698.2" cy="389.8" r="10.3" fill="#fff" stroke="#222" stroke-width="1.15"/>
<text transform="translate(698.2,393.7) scale(1.2,1)" text-anchor="middle" font-size="11" fill="#111" stroke="#111" stroke-width="0.15">24</text>
<circle cx="613.5" cy="484.5" r="10.3" fill="#fff" stroke="#222" stroke-width="1.15"/>
<text transform="translate(613.5,488.4) scale(1.2,1)" text-anchor="middle" font-size="11" fill="#111" stroke="#111" stroke-width="0.15">22</text>
<circle cx="613.3" cy="508" r="10.3" fill="#fff" stroke="#222" stroke-width="1.15"/>
<text transform="translate(613.3,511.9) scale(1.2,1)" text-anchor="middle" font-size="11" fill="#111" stroke="#111" stroke-width="0.15">20</text>
<circle cx="634.6" cy="508" r="10.3" fill="#fff" stroke="#222" stroke-width="1.15"/>
<text transform="translate(634.6,511.9) scale(1.2,1)" text-anchor="middle" font-size="11" fill="#111" stroke="#111" stroke-width="0.15">21</text>
<text transform="translate(359,334.2) scale(1.2,1)" text-anchor="middle" font-size="11" fill="#111" stroke="#111" stroke-width="0.15">12</text>
<text transform="translate(427.5,365) scale(1.2,1)" text-anchor="middle" font-size="11" fill="#111" stroke="#111" stroke-width="0.15">9</text>
<text transform="translate(384,422) scale(1.2,1)" text-anchor="middle" font-size="11" fill="#111" stroke="#111" stroke-width="0.15">10</text>
<text transform="translate(348.5,482) scale(1.2,1)" text-anchor="middle" font-size="11" fill="#111" stroke="#111" stroke-width="0.15">11</text>
<text transform="translate(399.5,538) scale(1.2,1)" text-anchor="middle" font-size="11" fill="#111" stroke="#111" stroke-width="0.15">5</text>
<text transform="translate(481.3,497.7) scale(1.2,1)" text-anchor="middle" font-size="11" fill="#111" stroke="#111" stroke-width="0.15">15</text>
<text transform="translate(549.7,443.5) scale(1.2,1)" text-anchor="middle" font-size="11" fill="#111" stroke="#111" stroke-width="0.15">7</text>
<text transform="translate(521,528.5) scale(1.2,1)" text-anchor="middle" font-size="11" fill="#111" stroke="#111" stroke-width="0.15">2</text>
<text transform="translate(434.6,576.3) scale(1.2,1)" text-anchor="middle" font-size="11" fill="#111" stroke="#111" stroke-width="0.15">1</text>
<text transform="translate(349.8,570) scale(1.2,1)" text-anchor="middle" font-size="11" fill="#111" stroke="#111" stroke-width="0.15">30</text>
<text transform="translate(303.5,598.5) scale(1.2,1)" text-anchor="middle" font-size="11" fill="#111" stroke="#111" stroke-width="0.15">28</text>
<text transform="translate(303.5,621) scale(1.2,1)" text-anchor="middle" font-size="11" fill="#111" stroke="#111" stroke-width="0.15">27</text>
<text transform="translate(431.7,595.3) scale(1.2,1)" text-anchor="middle" font-size="11" fill="#111" stroke="#111" stroke-width="0.15">26</text>
<text transform="translate(431.2,621) scale(1.2,1)" text-anchor="middle" font-size="11" fill="#111" stroke="#111" stroke-width="0.15">29</text>
<text transform="translate(265.5,620.7) scale(1.2,1)" text-anchor="middle" font-size="11" fill="#111" stroke="#111" stroke-width="0.15">16</text>
<text transform="translate(519.3,599.7) scale(1.2,1)" text-anchor="middle" font-size="11" fill="#111" stroke="#111" stroke-width="0.15">14</text>
<text transform="translate(645.8,279.2) scale(1.2,1)" text-anchor="middle" font-size="11" fill="#111" stroke="#111" stroke-width="0.15">13</text>
<text transform="translate(616.8,343) scale(1.2,1)" text-anchor="middle" font-size="11" fill="#111" stroke="#111" stroke-width="0.15">4</text>
<text transform="translate(616.3,406) scale(1.2,1)" text-anchor="middle" font-size="11" fill="#111" stroke="#111" stroke-width="0.15">8</text>
<text transform="translate(616.7,462) scale(1.2,1)" text-anchor="middle" font-size="11" fill="#111" stroke="#111" stroke-width="0.15">3</text>
</g>
<g id="legend-left">
<g fill="none" stroke="#777" stroke-width="0.9">
<path d="M185 261.4 H228.8"/>
<path d="M228.5 261 V483.6"/>
<path d="M185 483.3 H228.8"/>
<path d="M185 261 V483.4" stroke-width="1.3" stroke="#9a9a9a"/>
<line x1="185" y1="293.3" x2="228.5" y2="293.3"/>
<line x1="185" y1="324.5" x2="228.5" y2="324.5"/>
<line x1="185" y1="356.3" x2="228.5" y2="356.3"/>
<line x1="185" y1="387.8" x2="228.5" y2="387.8"/>
<line x1="185" y1="419.5" x2="228.5" y2="419.5"/>
<line x1="185" y1="451.3" x2="228.5" y2="451.3"/>
</g>
<text transform="translate(187,272) scale(1.2,1)" text-anchor="start" font-size="11" fill="#111" stroke="#111" stroke-width="0.15">20</text>
<text transform="translate(187,303.7) scale(1.2,1)" text-anchor="start" font-size="11" fill="#111" stroke="#111" stroke-width="0.15">21</text>
<text transform="translate(187,335.3) scale(1.2,1)" text-anchor="start" font-size="11" fill="#111" stroke="#111" stroke-width="0.15">22</text>
<text transform="translate(187,367) scale(1.2,1)" text-anchor="start" font-size="11" fill="#111" stroke="#111" stroke-width="0.15">23</text>
<text transform="translate(187,398.7) scale(1.2,1)" text-anchor="start" font-size="11" fill="#111" stroke="#111" stroke-width="0.15">24</text>
<text transform="translate(187,430) scale(1.2,1)" text-anchor="start" font-size="11" fill="#111" stroke="#111" stroke-width="0.15">25</text>
<text transform="translate(187,461.7) scale(1.2,1)" text-anchor="start" font-size="11" fill="#111" stroke="#111" stroke-width="0.15">31</text>
<path d="M208 274 C208.2 275.2 209 278.7 209.5 281 C210 283.3 210.5 286.6 211 288 C211.5 289.4 211.2 289.1 212.5 289.3 C213.8 289.5 217.4 289.4 218.5 289.2 C219.6 289 219 289.4 219.3 288 C219.6 286.6 220.2 283.3 220.5 281 C220.8 278.7 221.2 275.2 221.3 274" fill="#fff" stroke="#1c1c1c" stroke-width="1.1" />
<path d="M209.5 280.3 C210.3 280.5 212.7 281.6 214.5 281.6 C216.3 281.6 219.3 280.5 220.3 280.3" fill="none" stroke="#666" stroke-width="0.9" />
<ellipse cx="214.3" cy="270.3" rx="8.3" ry="4.3" fill="#fff" stroke="#1a1a1a" stroke-width="1.3"/>
<ellipse cx="214.3" cy="270" rx="5.2" ry="2.4" fill="#fff" stroke="#555" stroke-width="0.9"/>
<path d="M206.3 272 C207.6 272.6 211.6 275.6 214.3 275.6 C217 275.6 221 272.6 222.3 272" fill="none" stroke="#333" stroke-width="0.9" />
<path d="M214 294 C214.5 293.8 215.3 294.4 216.5 295 C217.7 295.6 219.8 296.5 221.3 297.7 C222.8 298.9 225 300.9 225.7 302.3 C226.4 303.7 226 305.2 225.3 306.3 C224.6 307.4 223.1 308.4 221.3 309 C219.5 309.6 216.9 310 214.7 310 C212.5 310 209.6 309.7 208 309 C206.4 308.3 205.6 306.9 205 305.7 C204.4 304.5 203.8 302.7 204.3 302 C204.8 301.3 206.9 302.1 208 301.7 C209.1 301.3 209.6 300.2 210.7 299.7 C211.8 299.2 214 299.3 214.5 298.7 C215 298.1 213.6 296.8 213.5 296 C213.4 295.2 213.5 294.2 214 294 Z" fill="#fff" stroke="#1c1c1c" stroke-width="1.2" />
<path d="M213.2 299.5 L215.8 299.8" fill="none" stroke="#1c1c1c" stroke-width="1.6" />
<path d="M219.2 305 L221.8 305.3" fill="none" stroke="#1c1c1c" stroke-width="1.6" />
<path d="M207.7 303.5 L210.3 303.8" fill="none" stroke="#1c1c1c" stroke-width="1.6" />
<path d="M208.7 306.5 L211.3 306.8" fill="none" stroke="#1c1c1c" stroke-width="1.6" />
<path d="M216.7 306.5 L219.3 306.8" fill="none" stroke="#1c1c1c" stroke-width="1.6" />
<path d="M209 310.5 C209 311.2 209.1 313.6 209.2 315 C209.3 316.4 209 317.9 209.5 319 C210 320.1 211.1 321.1 212 321.6 C212.9 322.2 213.8 322.3 214.7 322.3 C215.6 322.3 216.6 322.2 217.5 321.6 C218.4 321.1 219.6 320.1 220 319 C220.4 317.9 220.1 316.4 220.2 315 C220.2 313.6 220.3 311.2 220.3 310.5" fill="none" stroke="#1c1c1c" stroke-width="1.2" />
<path d="M211.3 313 L211.3 318" fill="none" stroke="#888" stroke-width="0.9" />
<path d="M218.3 313 L218.3 318" fill="none" stroke="#888" stroke-width="0.9" />
<path d="M210.5 320 C211.2 320.2 213.3 321.2 214.7 321.2 C216.1 321.2 218.3 320.2 219 320" fill="none" stroke="#1c1c1c" stroke-width="1.4" />
<path d="M214 325.3 C214.5 325.1 215.3 325.7 216.5 326.3 C217.7 326.9 219.8 327.8 221.3 329 C222.8 330.2 225 332.2 225.7 333.6 C226.4 335 226 336.5 225.3 337.6 C224.6 338.7 223.1 339.7 221.3 340.3 C219.5 340.9 216.9 341.3 214.7 341.3 C212.5 341.3 209.6 341 208 340.3 C206.4 339.6 205.6 338.2 205 337 C204.4 335.8 203.8 334 204.3 333.3 C204.8 332.6 206.9 333.4 208 333 C209.1 332.6 209.6 331.5 210.7 331 C211.8 330.5 214 330.6 214.5 330 C215 329.4 213.6 328.1 213.5 327.3 C213.4 326.5 213.5 325.5 214 325.3 Z" fill="#fff" stroke="#1c1c1c" stroke-width="1.2" />
<path d="M213.2 330.8 L215.8 331.1" fill="none" stroke="#1c1c1c" stroke-width="1.6" />
<path d="M219.2 336.3 L221.8 336.6" fill="none" stroke="#1c1c1c" stroke-width="1.6" />
<path d="M207.7 334.8 L210.3 335.1" fill="none" stroke="#1c1c1c" stroke-width="1.6" />
<path d="M208.7 337.8 L211.3 338.1" fill="none" stroke="#1c1c1c" stroke-width="1.6" />
<path d="M216.7 337.8 L219.3 338.1" fill="none" stroke="#1c1c1c" stroke-width="1.6" />
<path d="M209 341.8 C209 342.6 209.1 344.8 209.2 346.3 C209.3 347.9 209 349.9 209.5 351.1 C210 352.3 211.1 353.2 212 353.7 C212.9 354.3 213.8 354.4 214.7 354.4 C215.6 354.4 216.6 354.3 217.5 353.7 C218.4 353.2 219.6 352.3 220 351.1 C220.4 349.9 220.1 347.9 220.2 346.3 C220.2 344.8 220.3 342.6 220.3 341.8" fill="none" stroke="#1c1c1c" stroke-width="1.2" />
<path d="M211.3 344.3 L211.3 350.1" fill="none" stroke="#888" stroke-width="0.9" />
<path d="M218.3 344.3 L218.3 350.1" fill="none" stroke="#888" stroke-width="0.9" />
<path d="M210.5 352.1 C211.2 352.3 213.3 353.3 214.7 353.3 C216.1 353.3 218.3 352.3 219 352.1" fill="none" stroke="#1c1c1c" stroke-width="1.4" />
<path d="M209 361.5 C208.9 362.2 208.2 364.9 208.3 366 C208.4 367.1 208.3 367.7 209.5 368.3 C210.7 368.9 213.3 369.6 215.2 369.6 C217.1 369.6 219.9 368.9 221 368.3 C222.1 367.7 221.9 367.1 222 366 C222.1 364.9 221.4 362.2 221.3 361.5" fill="#fff" stroke="#1c1c1c" stroke-width="1.2" />
<ellipse cx="215.1" cy="360.6" rx="6" ry="2.7" fill="#fff" stroke="#1a1a1a" stroke-width="1.2"/>
<ellipse cx="215.1" cy="360.4" rx="2.6" ry="1.2" fill="#fff" stroke="#555" stroke-width="0.8"/>
<path d="M212.7 369.8 L212.7 384 L215.3 386.5 L218 384 L218 369.8 Z" fill="#ddd" stroke="#1c1c1c" stroke-width="1.0" />
<path d="M212.7 371.4 L218 372" fill="none" stroke="#333" stroke-width="0.9" />
<path d="M212.7 373.6 L218 374.2" fill="none" stroke="#333" stroke-width="0.9" />
<path d="M212.7 375.8 L218 376.4" fill="none" stroke="#333" stroke-width="0.9" />
<path d="M212.7 378 L218 378.6" fill="none" stroke="#333" stroke-width="0.9" />
<path d="M212.7 380.2 L218 380.8" fill="none" stroke="#333" stroke-width="0.9" />
<path d="M212.7 382.4 L218 383" fill="none" stroke="#333" stroke-width="0.9" />
<ellipse cx="215" cy="395.4" rx="7" ry="5.2" fill="#fff" stroke="#1a1a1a" stroke-width="1.3"/>
<path d="M212 394 L213.3 392 L217 392 L218 394" fill="none" stroke="#444" stroke-width="0.9" />
<path d="M208.6 397.5 C209.7 398.1 212.9 401 215 401 C217.1 401 220.3 398.1 221.4 397.5" fill="none" stroke="#333" stroke-width="1.0" />
<path d="M212.4 401.2 L212.4 415 L215.2 417.5 L218 415 L218 401.2 Z" fill="#ddd" stroke="#1c1c1c" stroke-width="1.0" />
<path d="M212.4 402.8 L218 403.4" fill="none" stroke="#333" stroke-width="0.9" />
<path d="M212.4 405 L218 405.6" fill="none" stroke="#333" stroke-width="0.9" />
<path d="M212.4 407.2 L218 407.8" fill="none" stroke="#333" stroke-width="0.9" />
<path d="M212.4 409.4 L218 410" fill="none" stroke="#333" stroke-width="0.9" />
<path d="M212.4 411.6 L218 412.2" fill="none" stroke="#333" stroke-width="0.9" />
<path d="M212.4 413.8 L218 414.4" fill="none" stroke="#333" stroke-width="0.9" />
<path d="M194 448.7 L195 442.3 L224 426 L226 429 L225.5 431.3 L198.7 448.5 Z" fill="#fff" stroke="#1c1c1c" stroke-width="1.3" />
<ellipse cx="197.6" cy="445.2" rx="1.7" ry="1.3" transform="rotate(-30 197.6 445.2)" fill="#fff" stroke="#1a1a1a" stroke-width="1.2"/>
<ellipse cx="203.3" cy="442" rx="1.7" ry="1.3" transform="rotate(-30 203.3 442)" fill="#fff" stroke="#1a1a1a" stroke-width="1.2"/>
<ellipse cx="208.6" cy="439" rx="1.7" ry="1.3" transform="rotate(-30 208.6 439)" fill="#fff" stroke="#1a1a1a" stroke-width="1.2"/>
<ellipse cx="216.3" cy="434.4" rx="1.7" ry="1.3" transform="rotate(-30 216.3 434.4)" fill="#fff" stroke="#1a1a1a" stroke-width="1.2"/>
<ellipse cx="221.6" cy="431" rx="1.7" ry="1.3" transform="rotate(-30 221.6 431)" fill="#fff" stroke="#1a1a1a" stroke-width="1.2"/>
<path d="M199.6 440.5 L201.8 446.3" fill="none" stroke="#1c1c1c" stroke-width="1.3" />
<path d="M211.3 434 L213.7 439.5" fill="none" stroke="#1c1c1c" stroke-width="1.3" />
<path d="M205.4 437.5 L207.2 442.5" fill="none" stroke="#333" stroke-width="1.1" />
<path d="M218.5 430 L220 434.5" fill="none" stroke="#333" stroke-width="1.0" />
<path d="M192.8 471.2 L218.3 457.3" fill="none" stroke="#1c1c1c" stroke-width="1.1" />
<path d="M197.3 479.6 L222.6 465.8" fill="none" stroke="#1c1c1c" stroke-width="1.1" />
<path d="M218.3 457.3 C218.8 457.4 220.6 456.9 221.5 457.6 C222.4 458.3 223.4 460.1 223.6 461.5 C223.8 462.9 222.8 465.1 222.6 465.8" fill="none" stroke="#1c1c1c" stroke-width="1.1" />
<ellipse cx="195" cy="475.4" rx="2.9" ry="4.6" transform="rotate(-28 195 475.4)" fill="#fff" stroke="#1a1a1a" stroke-width="1.1"/>
</g>
<g id="legend-right">
<g fill="none" stroke="#777" stroke-width="0.9">
<path d="M672.45 466.8 V624.8"/>
<path d="M716.5 466.8 V624.8"/>
<path d="M672.2 467.15 H716.8"/>
<path d="M672.2 624.4 H716.8"/>
<line x1="672.5" y1="498.5" x2="716.5" y2="498.5"/>
<line x1="672.5" y1="530.5" x2="716.5" y2="530.5"/>
<line x1="672.5" y1="562.1" x2="716.5" y2="562.1"/>
<line x1="672.5" y1="593.5" x2="716.5" y2="593.5"/>
</g>
<text transform="translate(680.8,478.1) scale(1.2,1)" text-anchor="middle" font-size="11" fill="#111" stroke="#111" stroke-width="0.15">19</text>
<text transform="translate(680.8,510) scale(1.2,1)" text-anchor="middle" font-size="11" fill="#111" stroke="#111" stroke-width="0.15">18</text>
<text transform="translate(680.8,541.7) scale(1.2,1)" text-anchor="middle" font-size="11" fill="#111" stroke="#111" stroke-width="0.15">17</text>
<text transform="translate(680.8,572) scale(1.2,1)" text-anchor="middle" font-size="11" fill="#111" stroke="#111" stroke-width="0.15">6</text>
<text class="n" x="694.2" y="633.3" text-anchor="middle" font-size="8.2" fill="#111" stroke="#111" stroke-width="0.25">00211024</text>
<path d="M683.3 485.3 L697.3 476.7 L701.3 478.7 L706.7 480 L712 479.3 L713.3 482.7 L712 488 L701.3 493.3 L696.7 496.7 L684.7 489.3 Z" fill="#fff" stroke="#1c1c1c" stroke-width="1.3" />
<path d="M692.5 481.5 L697 492 L696.7 496.5" fill="none" stroke="#1c1c1c" stroke-width="1.3" />
<path d="M697 492 L712 484" fill="none" stroke="#1c1c1c" stroke-width="1.0" />
<path d="M684.5 486.5 L696 493.5" fill="none" stroke="#1c1c1c" stroke-width="1.2" />
<path d="M688 487.5 L694 491 L695.5 488.5" fill="none" stroke="#1c1c1c" stroke-width="1.4" />
<ellipse cx="699.3" cy="481.8" rx="3.4" ry="2.2" fill="#fff" stroke="#222" stroke-width="1.2"/>
<path d="M695 484.5 C695.8 484.8 698.3 486.4 700 486.3 C701.7 486.2 704.2 484.4 705 484" fill="none" stroke="#444" stroke-width="0.9" />
<path d="M707.5 481 L710.5 483.5" fill="none" stroke="#1c1c1c" stroke-width="1.2" />
<ellipse cx="700.2" cy="506.7" rx="8.2" ry="4.7" fill="#fff" stroke="#1a1a1a" stroke-width="1.3"/>
<path d="M692.3 508 C693.6 508.7 697.6 512.3 700.2 512.3 C702.8 512.3 706.8 508.7 708.1 508" fill="none" stroke="#1c1c1c" stroke-width="1.0" />
<path d="M697.5 505.3 L703.5 505.3" fill="none" stroke="#333" stroke-width="0.9" />
<path d="M697.5 507.2 L703.5 507.2" fill="none" stroke="#333" stroke-width="0.9" />
<path d="M700.5 504.8 L700.5 507.8" fill="none" stroke="#333" stroke-width="0.9" />
<path d="M696.3 512.3 L696.3 519 L700 527.3 L704 519 L704 512.3" fill="#e8e8e8" stroke="#1c1c1c" stroke-width="1.1" />
<path d="M696.6 514.3 L703.7 514.8" fill="none" stroke="#555" stroke-width="0.8" />
<path d="M696.6 516.5 L703.7 517" fill="none" stroke="#555" stroke-width="0.8" />
<path d="M696.6 518.7 L703.7 519.2" fill="none" stroke="#555" stroke-width="0.8" />
<path d="M697.5 521 L702.8 521.5" fill="none" stroke="#555" stroke-width="0.8" />
<path d="M698.6 523.2 L701.7 523.7" fill="none" stroke="#555" stroke-width="0.8" />
<path d="M695.5 543 L695.5 557 L698 559.5 L700 560.5 L702 559.5 L704.3 557 L704.3 543" fill="#9a9a9a" stroke="#1c1c1c" stroke-width="1.1" />
<path d="M696.5 546 L703.3 546.6" fill="none" stroke="#333" stroke-width="0.9" />
<path d="M696.5 549 L703.3 549.6" fill="none" stroke="#333" stroke-width="0.9" />
<path d="M696.5 552 L703.3 552.6" fill="none" stroke="#333" stroke-width="0.9" />
<path d="M696.5 555 L703.3 555.6" fill="none" stroke="#333" stroke-width="0.9" />
<ellipse cx="699.9" cy="537.3" rx="8.8" ry="5.3" fill="#fff" stroke="#1a1a1a" stroke-width="1.3"/>
<path d="M692 539.8 C693.3 540.4 697.4 543.2 700 543.2 C702.6 543.2 706.5 540.4 707.8 539.8" fill="none" stroke="#1c1c1c" stroke-width="1.1" />
<path d="M693.5 574 C693.4 575 693.2 578.2 693 580 C692.8 581.8 691.9 583.2 692 584.5 C692.1 585.8 692.5 587.1 693.5 588 C694.5 588.9 696.5 589.5 698 589.8 C699.5 590 701.3 590.1 702.5 589.5 C703.7 588.9 704.5 587.6 705 586 C705.5 584.4 705 581.8 705.3 580 C705.5 578.2 706.3 575.8 706.5 575" fill="#fff" stroke="#1c1c1c" stroke-width="1.2" />
<path d="M693.5 579.5 C694.4 579.9 697.1 582 699 582 C700.9 582 704 579.9 705 579.5" fill="none" stroke="#1c1c1c" stroke-width="1.2" />
<path d="M693 584 C693.9 584.3 696.5 586.1 698.5 586 C700.5 585.9 703.8 583.9 704.8 583.5" fill="none" stroke="#444" stroke-width="1.0" />
<path d="M692.3 568.8 L698 565.6 Q699.4 564.9 700.8 565.6 L707.6 568.8 Q708.9 569.6 708.6 571 L708.3 572.4 Q708 573.4 707 574 L702.5 576.5 Q701.3 577.1 700 576.5 L693 573 Q691.6 572.2 691.4 571 Q691.2 569.6 692.3 568.8 Z" fill="#fff" stroke="#1a1a1a" stroke-width="1.3"/>
<path d="M691.8 571 C692.5 571.4 694.4 572.6 696 573.3 C697.6 574 699.8 575 701.3 575 C702.8 575 703.8 574 705 573.3 C706.2 572.6 707.8 571.4 708.3 571" fill="none" stroke="#555" stroke-width="0.8" />
<path d="M675 604.3 L681 607.3 L701 596.3 L713 602.5 L694 614.3 L697 616 L696.7 617.7 L675.5 617.7 Z" fill="#fff" stroke="#1c1c1c" stroke-width="1.0" />
<path d="M713 602.5 L713.6 607 L698 616.5 L694 614.3 Z" fill="#111" stroke="#1c1c1c" stroke-width="0.8" />
<path d="M675.3 617.7 L699.5 617.7 L699.5 621.3 L675.3 621.3 Z" fill="#111" stroke="#1c1c1c" stroke-width="0.8" />
</g>
</svg>
</body></html>
